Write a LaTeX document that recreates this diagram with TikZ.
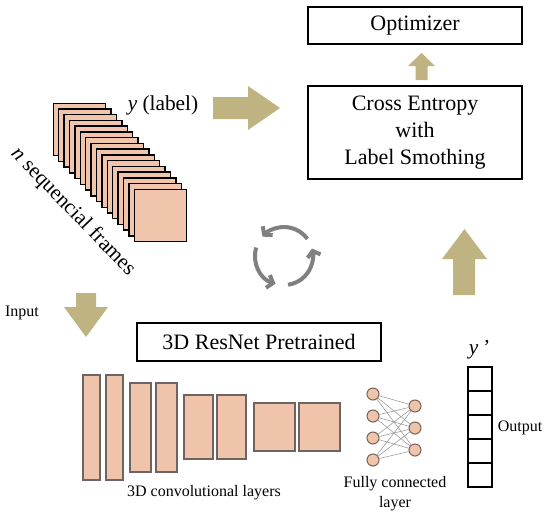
\documentclass[tikz,border=0pt]{standalone}
\usepackage{fontspec}
\setmainfont{Liberation Serif}
\usetikzlibrary{arrows.meta}

\tikzset{every picture/.style={line width=0.75pt}}
\tikzset{
  blockarrow/.style={fill={rgb, 255:red, 191; green, 179; blue, 129}, draw=none},
  framebox/.style={draw=black, line width=1.1pt, fill={rgb, 255:red, 241; green, 197; blue, 171}},
  convlayer/.style={draw={rgb, 255:red, 110; green, 100; blue, 100}, line width=0.9pt, fill={rgb, 255:red, 240; green, 196; blue, 170}},
  neuron/.style={circle, draw={rgb, 255:red, 120; green, 100; blue, 90}, line width=0.8pt, fill={rgb, 255:red, 240; green, 196; blue, 170}, minimum size=9pt, inner sep=0pt},
  synapse/.style={draw={rgb, 255:red, 150; green, 150; blue, 150}, line width=0.4pt},
  textbox/.style={draw=black, line width=1.1pt, align=center, font=\fontsize{16.5}{20}\selectfont},
  cyclearrow/.style={draw={rgb, 255:red, 128; green, 128; blue, 128}, line width=3pt, -{Straight Barb[length=4pt,width=10pt]}},
  bigtext/.style={font=\fontsize{16}{20}\selectfont},
  smalltext/.style={font=\fontsize{12}{15}\selectfont, align=center},
}

\begin{document}
\begin{tikzpicture}[x=0.75pt,y=0.75pt,yscale=-1,xscale=1]
\useasboundingbox (0,0) rectangle (550,519);

%Shape: Rectangle [id:optimizer]
\node[textbox, minimum width=160.5pt, minimum height=27.75pt] (optim) at (415,25.5) {Optimizer};
%Shape: Rectangle [id:loss]
\node[textbox, minimum width=160.5pt, minimum height=69.75pt] (loss) at (415,132.5) {Cross Entropy\\with\\Label Smothing};
%Shape: Rectangle [id:resnet]
\node[textbox, minimum width=183pt, minimum height=28.5pt] (resnet) at (259,342) {3D ResNet Pretrained};

%Shape: Up Arrow [id:lossup]
\fill[blockarrow] (415.5,80) -- (415.5,66) -- (408,66) -- (421.5,53) -- (435,66) -- (427.5,66) -- (427.5,80) -- cycle ;
%Shape: Right Arrow [id:labelright]
\fill[blockarrow] (213,97) -- (248,97) -- (248,86) -- (280,108) -- (248,130) -- (248,119) -- (213,119) -- cycle ;
%Shape: Up Arrow [id:outup]
\fill[blockarrow] (453,295) -- (453,259) -- (442,259) -- (464.5,229) -- (487,259) -- (475,259) -- (475,295) -- cycle ;
%Shape: Down Arrow [id:inputdown]
\fill[blockarrow] (76,293) -- (96,293) -- (96,307) -- (108,307) -- (86,337) -- (64,307) -- (76,307) -- cycle ;

%Shape: Frames stack
\foreach \i in {0,...,15}
  \draw[framebox] ({53.3+5.4*\i},{103.3+5.73*\i}) rectangle ++(52.4,52.4);

% Text Node
\node[bigtext] (label) at (163,105) {\textit{y} (label)};
% Text Node
\node[bigtext, rotate=-46] (frames) at (73,212) {\textit{n} sequencial frames};
% Text Node
\node[smalltext] (input) at (22,313) {Input};

%Shape: Cycle icon
\coordinate (cyc) at (284,256);
\draw[cyclearrow] ([shift={(-36:29)}]cyc) arc[start angle=-36, end angle=-138, radius=29];
\draw[cyclearrow] ([shift={(-163:29)}]cyc) arc[start angle=-163, end angle=-253, radius=29];
\draw[cyclearrow] ([shift={(-278:29)}]cyc) arc[start angle=-278, end angle=-375, radius=29];

%Shape: Conv layers
\foreach \x/\y/\w/\h in {83/375/17/105, 106/375/17/105, 130/383/21/89, 156/383/21/89, 184/395/29/64, 217/395/29/64, 254/403/41/48, 299/403/41/48}
  \draw[convlayer] (\x,\y) rectangle ++(\w,\h);
% Text Node
\node[smalltext] (convtext) at (204,493) {3D convolutional layers};

%Shape: Fully connected layer
\foreach \i/\y in {1/394, 2/416, 3/438, 4/460}
  \node[neuron] (l\i) at (373,\y) {};
\foreach \j/\y in {1/406, 2/428, 3/450}
  \node[neuron] (r\j) at (415,\y) {};
\foreach \i in {1,...,4}
  \foreach \j in {1,...,3}
    \draw[synapse] (l\i) -- (r\j);
% Text Node
\node[smalltext] (fctext) at (395,494) {Fully connected\\layer};

%Shape: Output vector
\foreach \i in {0,...,4}
  \draw[line width=1.3pt] (468,{367+24*\i}) rectangle ++(24,24);
% Text Node
\node[bigtext] (yhat) at (479,350) {\textit{y\,’}};
% Text Node
\node[smalltext] (output) at (520,428) {Output};

\end{tikzpicture}
\end{document}
